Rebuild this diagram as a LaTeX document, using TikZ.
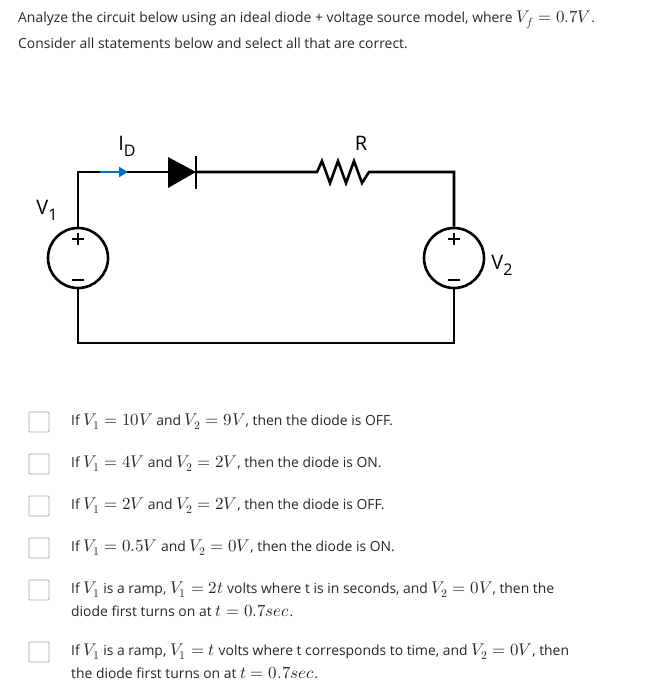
\documentclass[tikz,border=0pt]{standalone}
\usepackage{fontspec}
\usepackage{unicode-math}
\setmainfont{Open Sans}
\setmathfont{Latin Modern Math}[Scale=1.22]
\usetikzlibrary{arrows.meta}
\newcommand{\lsub}[1]{\raisebox{-0.3em}{\fontsize{16}{16}\selectfont #1}}
\begin{document}
\begin{tikzpicture}[x=1pt,y=-1pt,
  wire/.style={line width=2.6pt},
  sign/.style={line width=2.4pt},
  txt/.style={anchor=west,inner sep=0pt,font=\fontsize{13.9}{18}\selectfont,text=black!85},
  cbox/.style={draw=black!35,line width=0.8pt,rounded corners=1pt,minimum size=20pt,inner sep=0pt},
  lbl/.style={inner sep=0pt,font=\fontsize{20}{22}\selectfont}]
\useasboundingbox (0,0) rectangle (662,697);
\node[txt] (t1) at (18,20) {Analyze the circuit below using an ideal diode + voltage source model, where $V_f=0.7V$.};
\node[txt] (t2) at (18,43) {Consider all statements below and select all that are correct.};
% circuit
\coordinate (tl) at (78,172); \coordinate (tr) at (454,172);
\coordinate (bl) at (78,343); \coordinate (br) at (454,343);
\node[draw,circle,line width=2.6pt,minimum size=60pt,inner sep=0pt] (v1) at (78,258) {};
\node[draw,circle,line width=2.6pt,minimum size=60pt,inner sep=0pt] (v2) at (454,258) {};
\draw[sign] (72,239) -- (84,239) (78,233) -- (78,245) (72,280) -- (84,280);
\draw[sign] (448,239) -- (460,239) (454,233) -- (454,245) (448,280) -- (460,280);
\coordinate (da) at (168,172); \coordinate (dk) at (196,172);
\coordinate (ra) at (317,172); \coordinate (rb) at (369,172);
\draw[wire] (v1.north) -- (tl) -- (da);
\fill (168,157) -- (196,172) -- (168,188) -- cycle;
\draw[wire] (196,156) -- (196,189);
\draw[wire,line join=miter] (dk) -- (ra) -- (322,161) -- (330,183) -- (338,161) -- (346,183) -- (354,161) -- (362,183) -- (rb) -- (tr) -- (v2.north);
\draw[wire] (v1.south) -- (bl) -- (br) -- (v2.south);
\draw[line width=2.6pt,draw={rgb,255:red,0;green,112;blue,192},-{Triangle[length=9pt,width=10pt]}] (100,172) -- (128,172);
\node[lbl] (id) at (127,146) {I\lsub{D}};
\node[lbl] (r) at (361,143) {R};
\node[lbl] (lv1) at (47,210) {V\lsub{1}};
\node[lbl] (lv2) at (502,265) {V\lsub{2}};
% options
\foreach \y/\n in {422/a,464/b,506/c,548/d,590/e,652/f}{\node[cbox] (c\n) at (39,\y) {};}
\node[txt] (s1) at (71,422) {If $V_1=10V$ and $V_2=9V$, then the diode is OFF.};
\node[txt] (s2) at (71,464) {If $V_1=4V$ and $V_2=2V$, then the diode is ON.};
\node[txt] (s3) at (71,506) {If $V_1=2V$ and $V_2=2V$, then the diode is OFF.};
\node[txt] (s4) at (71,548) {If $V_1=0.5V$ and $V_2=0V$, then the diode is ON.};
\node[txt] (s5) at (71,590) {If $V_1$ is a ramp, $V_1=2t$ volts where t is in seconds, and $V_2=0V$, then the};
\node[txt] (s5b) at (71,611) {diode first turns on at $t=0.7sec$.};
\node[txt] (s6) at (71,652) {If $V_1$ is a ramp, $V_1=t$ volts where t corresponds to time, and $V_2=0V$, then};
\node[txt] (s6b) at (71,673) {the diode first turns on at $t=0.7sec$.};
\end{tikzpicture}
\end{document}
